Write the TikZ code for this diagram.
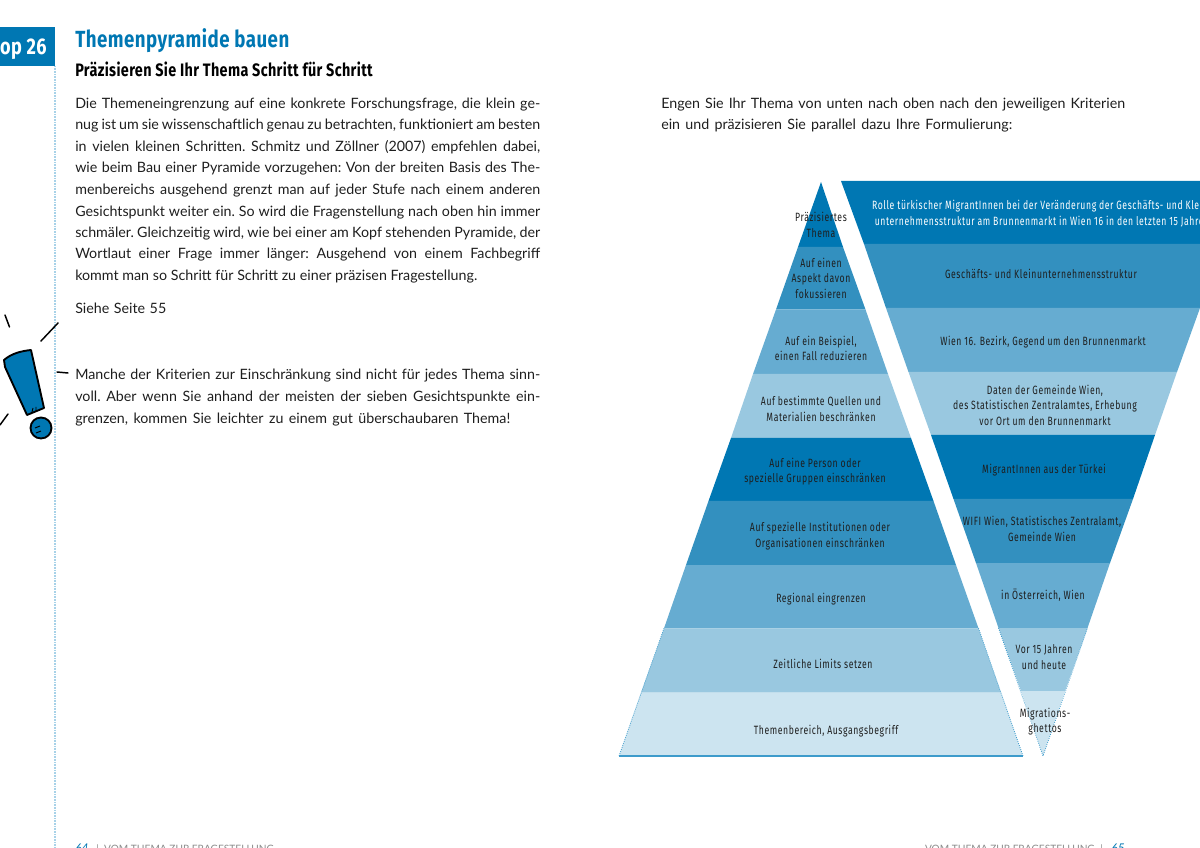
\documentclass[tikz,border=0pt]{standalone}
\usepackage{fontspec}
\setmainfont{Lato}
\newfontfamily\condheavy[FakeStretch=0.8,LetterSpace=2]{Fira Sans}
\newfontfamily\lab[FakeStretch=0.72,LetterSpace=5]{Fira Sans}
\definecolor{c1}{HTML}{0077B3}
\definecolor{c2}{HTML}{3390BF}
\definecolor{c3}{HTML}{66ACD1}
\definecolor{c4}{HTML}{99C8E0}
\definecolor{c5}{HTML}{CCE4F0}
\definecolor{edgeblue}{HTML}{3D9BCB}
\definecolor{guide}{HTML}{A8D2E8}
\definecolor{inktext}{HTML}{1E1E1E}
\definecolor{foot}{HTML}{8A8A8A}
\tikzset{
  body/.style={anchor=base west,inner sep=0pt,yshift=-0.6pt,text=inktext,font=\fontsize{10.7}{12}\selectfont\frenchspacing},
  lbl/.style={align=center,inner sep=0pt,yshift=-0.6pt,text=inktext,font=\lab\fontsize{9}{11.6}\selectfont},
  rayline/.style={line width=1.1pt,black,line cap=round},
  footer/.style={inner sep=0pt,text=foot,font=\fontsize{7.6}{10}\selectfont}
}
\newcommand{\jl}[5]{\node[body] (#1) at (#2,#3) {\makebox[\dimexpr 0.75pt*#4\relax][s]{#5}};}
\begin{document}
\begin{tikzpicture}[x=0.75pt,y=-0.75pt]
\useasboundingbox (0,0) rectangle (1200,848);
\clip (0,0) rectangle (1200,848);
% guide line and tab
\fill[c1] (-5,27) rectangle (55,66);
\draw[guide,line width=1.3pt,dash pattern=on 0.7pt off 0.5pt] (55,66) -- (55,848);
\node[anchor=base east,inner sep=0pt,text=white,font=\condheavy\bfseries\fontsize{17}{20}\selectfont] (tab) at (47,55) {op 26};
% headings
\node[anchor=base west,inner sep=0pt,text=c1,font=\condheavy\bfseries\fontsize{17.5}{20}\selectfont] (title) at (75,48) {Themenpyramide bauen};
\node[anchor=base west,inner sep=0pt,text=black,font=\condheavy\bfseries\fontsize{13.5}{14}\selectfont] (sub) at (75,77) {Präzisieren Sie Ihr Thema Schritt für Schritt};
% left text
\jl{a1}{75}{108}{465}{Die Themeneingrenzung auf eine konkrete Forschungsfrage, die klein ge-}
\jl{a2}{75}{129}{465}{nug ist um sie wissenschaftlich genau zu betrachten, funktioniert am besten}
\jl{a3}{75}{151}{465}{in vielen kleinen Schritten. Schmitz und Zöllner (2007) empfehlen dabei,}
\jl{a4}{75}{172}{465}{wie beim Bau einer Pyramide vorzugehen: Von der breiten Basis des The-}
\jl{a5}{75}{194}{465}{menbereichs ausgehend grenzt man auf jeder Stufe nach einem anderen}
\jl{a6}{75}{216}{465}{Gesichtspunkt weiter ein. So wird die Fragenstellung nach oben hin immer}
\jl{a7}{75}{237}{465}{schmäler. Gleichzeitig wird, wie bei einer am Kopf stehenden Pyramide, der}
\jl{a8}{75}{258}{465}{Wortlaut einer Frage immer länger: Ausgehend von einem Fachbegriff}
\jl{a9}{75}{280}{402}{kommt man so Schritt für Schritt zu einer präzisen Fragestellung.}
\jl{b1}{75}{313}{91}{Siehe Seite 55}
\jl{c1n}{75}{379}{465}{Manche der Kriterien zur Einschränkung sind nicht für jedes Thema sinn-}
\jl{c2n}{75}{401}{465}{voll. Aber wenn Sie anhand der meisten der sieben Gesichtspunkte ein-}
\jl{c3n}{75}{423}{435}{grenzen, kommen Sie leichter zu einem gut überschaubaren Thema!}
% right text
\jl{d1}{661}{108}{464}{Engen Sie Ihr Thema von unten nach oben nach den jeweiligen Kriterien}
\jl{d2}{661}{129}{351}{ein und präzisieren Sie parallel dazu Ihre Formulierung:}
% exclamation mark
\draw[rayline] (5,315) -- (9.5,327);
\draw[rayline] (41,341) -- (58,323);
\draw[rayline] (57,372) -- (68,373);
\draw[rayline] (0,425) -- (8,414);
\draw[fill=c1,draw=black,line width=1.4pt,line join=round] (4,360) .. controls (12,353) and (22,351) .. (31,350) -- (44,408) -- (27,415) -- (5,367) -- cycle;
\draw[fill=c1,draw=black,line width=1.4pt] (41,428) circle (10.5);
\draw[black,line width=0.7pt] (33,408) -- (32,412) (36,407) -- (36,411);
\draw[black,line width=0.7pt] (35,428) -- (40,426) (36,433) -- (41,431);
% left pyramid
\fill[c1] (821,182) -- (798,247) -- (843,247) -- cycle;
\fill[c2] (798,247) -- (776,309.5) -- (865.5,309.5) -- (843,247) -- cycle;
\fill[c3] (776,309.5) -- (753,374) -- (888,374) -- (865.5,309.5) -- cycle;
\fill[c4] (753,374) -- (731,438) -- (911,438) -- (888,374) -- cycle;
\fill[c1] (731,438) -- (708.5,501) -- (933.5,501) -- (911,438) -- cycle;
\fill[c2] (708.5,501) -- (686,565) -- (956,565) -- (933.5,501) -- cycle;
\fill[c3] (686,565) -- (664,628.3) -- (978.5,628.3) -- (956,565) -- cycle;
\fill[c4] (664,628.3) -- (641,692.7) -- (1001,692.7) -- (978.5,628.3) -- cycle;
\fill[c5] (641,692.7) -- (619,756) -- (1023,756) -- (1001,692.7) -- cycle;
\draw[edgeblue,line width=0.6pt,densely dotted] (664,628.3) -- (619,756) (978.5,628.3) -- (1023,756);
\draw[edgeblue,line width=1pt] (619,756) -- (1023,756);
% right triangle
\fill[c1] (841,181) -- (864,244) -- (1223,244) -- (1245,181) -- cycle;
\fill[c2] (864,244) -- (886,308) -- (1200,308) -- (1223,244) -- cycle;
\fill[c3] (886,308) -- (908.5,372) -- (1177,372) -- (1200,308) -- cycle;
\fill[c4] (908.5,372) -- (931,435) -- (1155,435) -- (1177,372) -- cycle;
\fill[c1] (931,435) -- (953.5,499) -- (1133,499) -- (1155,435) -- cycle;
\fill[c2] (953.5,499) -- (976,563) -- (1110,563) -- (1133,499) -- cycle;
\fill[c3] (976,563) -- (998.5,628) -- (1087.5,628) -- (1110,563) -- cycle;
\fill[c4] (998.5,628) -- (1021,691) -- (1065,691) -- (1087.5,628) -- cycle;
\fill[c5] (1021,691) -- (1043,756) -- (1065,691) -- cycle;
\draw[edgeblue,line width=0.6pt,densely dotted] (998.5,628) -- (1043,756) -- (1087.5,628);
% left labels
\node[lbl] (l1) at (821,224) {Präzisiertes\\Thema};
\node[lbl] (l2) at (821,277.5) {Auf einen\\Aspekt davon\\fokussieren};
\node[lbl] (l3) at (821,347.5) {Auf ein Beispiel,\\einen Fall reduzieren};
\node[lbl] (l4) at (821,408) {Auf bestimmte Quellen und\\Materialien beschränken};
\node[lbl] (l5) at (815,471) {Auf eine Person oder\\spezielle Gruppen einschränken};
\node[lbl] (l6) at (820,535.5) {Auf spezielle Institutionen oder\\Organisationen einschränken};
\node[lbl] (l7) at (821,598) {Regional eingrenzen};
\node[lbl] (l8) at (823,663) {Zeitliche Limits setzen};
\node[lbl] (l9) at (826,730) {Themenbereich, Ausgangsbegriff};
% right labels
\node[lbl,text=white] (r1) at (1042,213) {Rolle türkischer MigrantInnen bei der Veränderung der Geschäfts- und Klein-\\unternehmensstruktur am Brunnenmarkt in Wien 16 in den letzten 15 Jahren};
\node[lbl] (r2) at (1041,273) {Geschäfts- und Kleinunternehmensstruktur};
\node[lbl] (r3) at (1043,341) {Wien 16. Bezirk, Gegend um den Brunnenmarkt};
\node[lbl] (r4) at (1045,404.5) {Daten der Gemeinde Wien,\\des Statistischen Zentralamtes, Erhebung\\vor Ort um den Brunnenmarkt};
\node[lbl] (r5) at (1044,469) {MigrantInnen aus der Türkei};
\node[lbl] (r6) at (1042,528) {WIFI Wien, Statistisches Zentralamt,\\Gemeinde Wien};
\node[lbl] (r7) at (1043,594) {in Österreich, Wien};
\node[lbl] (r8) at (1044,656.5) {Vor 15 Jahren\\und heute};
\node[lbl] (r9) at (1045,721) {Migrations-\\ghettos};
% footers
\node[anchor=base west,inner sep=0pt,text=c1,font=\fontsize{9}{10}\itshape\selectfont] (p64) at (75,852) {64};
\node[footer,anchor=base west] (f64) at (96,852) {|\; VOM THEMA ZUR FRAGESTELLUNG};
\node[footer,anchor=base east] (f65) at (1103,852) {VOM THEMA ZUR FRAGESTELLUNG \;|};
\node[anchor=base east,inner sep=0pt,text=c1,font=\fontsize{9}{10}\itshape\selectfont] (p65) at (1125,852) {65};
\end{tikzpicture}
\end{document}
